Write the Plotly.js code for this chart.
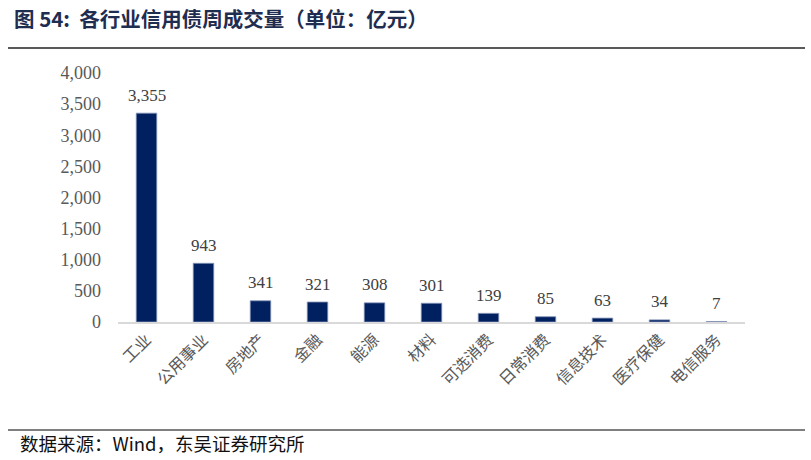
<!DOCTYPE html>
<html><head><meta charset="utf-8">
<script src="https://cdn.plot.ly/plotly-3.0.1.min.js"></script>
<style>html,body{margin:0;padding:0;background:#fff}#c{width:811px;height:460px}</style>
</head><body><div id="c"></div>
<script>
const categories = ["工业","公用事业","房地产","金融","能源","材料","可选消费","日常消费","信息技术","医疗保健","电信服务"];
const volumes = [3355, 943, 341, 321, 308, 301, 139, 85, 63, 34, 7];
const yTickVals = [0, 500, 1000, 1500, 2000, 2500, 3000, 3500, 4000];
const yTickText = ["0","500","1,000","1,500","2,000","2,500","3,000","3,500","4,000"];

const L = 118, R = 745, T = 73, B = 322, W = 811, H = 460;
const px = x => (x - L) / (R - L);
const py = y => (B - y) / (B - T);

const trace = {
  type: 'bar', x: categories, y: volumes,
  marker: {color: '#002060', line: {color: '#8796b8', width: 0.8}},
  hoverinfo: 'none'
};
const labelAnns = categories.map((c, i) => ({
  x: c, y: volumes[i], xref: 'x', yref: 'y', showarrow: false,
  yanchor: 'middle', yshift: 18,
  text: volumes[i].toLocaleString('en-US'),
  font: {family: 'Liberation Serif, serif', size: 17, color: '#404040'}
}));
const layout = {
  width: W, height: H,
  margin: {l: L, r: W - R, t: T, b: H - B},
  paper_bgcolor: '#fff', plot_bgcolor: '#fff',
  showlegend: false, bargap: 0.64,
  xaxis: {type: 'category', tickangle: -45, showgrid: false, zeroline: false,
    showline: true, linecolor: '#d9d9d9', linewidth: 2, ticks: '',
    tickfont: {family: 'Noto Sans CJK SC, sans-serif', size: 16, color: '#595959'}},
  yaxis: {range: [0, 4000], tickvals: yTickVals, ticktext: yTickText, showgrid: false,
    zeroline: false, showline: false, ticks: '', ticklabelstandoff: 16,
    tickfont: {family: 'Liberation Serif, serif', size: 18, color: '#595959'}},
  shapes: [
    {type: 'line', xref: 'paper', yref: 'paper', x0: px(8), x1: px(805), y0: py(48), y1: py(48), line: {color: '#222', width: 1.5}},
    {type: 'line', xref: 'paper', yref: 'paper', x0: px(8), x1: px(805), y0: py(430), y1: py(430), line: {color: '#555', width: 1.5}}
  ],
  annotations: [
    {xref: 'paper', yref: 'paper', x: px(12), y: py(18), xanchor: 'left', yanchor: 'middle', showarrow: false,
     text: '<b>图 54:  各行业信用债周成交量（单位：亿元）</b>',
     font: {family: 'Noto Sans CJK SC, sans-serif', size: 20.5, color: '#1f2d50'}},
    {xref: 'paper', yref: 'paper', x: px(18), y: py(443), xanchor: 'left', yanchor: 'middle', showarrow: false,
     text: '数据来源：Wind，东吴证券研究所',
     font: {family: 'Noto Sans CJK SC, sans-serif', size: 18.5, color: '#111'}}
  ].concat(labelAnns)
};
Plotly.newPlot('c', [trace], layout, {staticPlot: true, displayModeBar: false});
</script></body></html>
